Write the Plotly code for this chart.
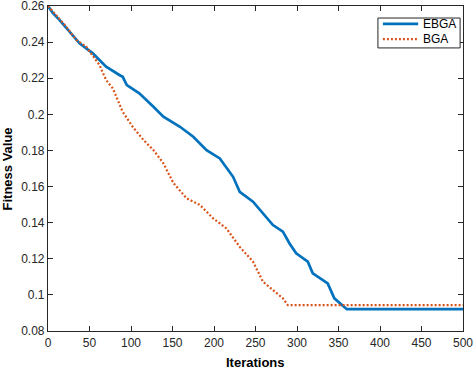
import plotly.graph_objects as go

ebga_x = [0, 6, 14, 26, 38, 54, 70, 86, 90, 95, 110, 127, 139, 159, 175, 191, 207, 223, 231, 247, 259, 271, 283, 291, 299, 313, 319, 337, 345, 360, 500]
ebga_y = [0.26, 0.256, 0.2522, 0.2458, 0.2393, 0.2338, 0.2264, 0.2218, 0.2208, 0.2162, 0.2116, 0.2042, 0.1987, 0.1931, 0.1876, 0.1802, 0.1756, 0.1654, 0.1571, 0.1516, 0.1451, 0.1387, 0.1350, 0.1285, 0.1230, 0.1184, 0.1119, 0.1064, 0.0981, 0.0921, 0.0921]

bga_x = [0, 6, 22, 34, 46, 62, 70, 78, 84, 90, 102, 115, 127, 139, 151, 167, 183, 199, 215, 231, 247, 259, 271, 283, 289, 500]
bga_y = [0.26, 0.2568, 0.2485, 0.2412, 0.2375, 0.2273, 0.2190, 0.2144, 0.2079, 0.2014, 0.1931, 0.1858, 0.1802, 0.1729, 0.1620, 0.1535, 0.1498, 0.1424, 0.1368, 0.1266, 0.1184, 0.1073, 0.1027, 0.0981, 0.0943, 0.0943]

x_ticks = [0, 50, 100, 150, 200, 250, 300, 350, 400, 450, 500]
y_ticks = [0.08, 0.1, 0.12, 0.14, 0.16, 0.18, 0.2, 0.22, 0.24, 0.26]
y_labels = ["0.08", "0.1", "0.12", "0.14", "0.16", "0.18", "0.2", "0.22", "0.24", "0.26"]

series_names = ["EBGA", "BGA"]
series_colors = ["#0072BD", "#D95319"]
series_widths = [2.7, 2.2]
series_dash = ["solid", "2px,2px"]

fig = go.Figure()
fig.add_trace(go.Scatter(x=ebga_x, y=ebga_y, mode="lines", name=series_names[0],
                         line=dict(color=series_colors[0], width=series_widths[0], dash=series_dash[0])))
fig.add_trace(go.Scatter(x=bga_x, y=bga_y, mode="lines", name=series_names[1],
                         line=dict(color=series_colors[1], width=series_widths[1], dash=series_dash[1])))

axis_common = dict(showline=True, linecolor="#262626", linewidth=1.2, mirror="ticks",
                   ticks="inside", ticklen=5, tickcolor="#262626", showgrid=False,
                   zeroline=False, automargin=False, ticklabeloverflow="allow",
                   tickfont=dict(size=12, color="#262626"))

# compact MATLAB-style legend box (paper coordinates)
leg_x0, leg_x1, leg_y0, leg_y1 = 0.795, 0.993, 0.871, 0.963
row_y = [0.945, 0.898]
shapes = [dict(type="rect", xref="paper", yref="paper", x0=leg_x0, x1=leg_x1, y0=leg_y0, y1=leg_y1,
               line=dict(color="#262626", width=1), fillcolor="white", layer="above")]
annotations = []
for name, col, w, d, ry in zip(series_names, series_colors, series_widths, series_dash, row_y):
    shapes.append(dict(type="line", xref="paper", yref="paper", x0=0.807, x1=0.892, y0=ry, y1=ry,
                       line=dict(color=col, width=w, dash=d), layer="above"))
    annotations.append(dict(text=name, xref="paper", yref="paper", x=0.898, y=ry,
                            xanchor="left", yanchor="middle", showarrow=False,
                            font=dict(size=12, color="black")))

annotations += [
    dict(text="<b>Iterations</b>", xref="paper", yref="paper", x=0.5, y=-0.0954,
         xanchor="center", yanchor="middle", showarrow=False,
         font=dict(size=13, color="black")),
    dict(text="<b>Fitness Value</b>", xref="paper", yref="paper", x=-0.0964, y=0.5,
         xanchor="center", yanchor="middle", textangle=-90, showarrow=False,
         font=dict(size=13, color="black")),
]

fig.update_layout(
    width=474, height=370,
    margin=dict(l=48, r=11, t=6, b=39, autoexpand=False),
    paper_bgcolor="white", plot_bgcolor="white",
    font=dict(family="Liberation Sans, Arial, sans-serif", color="#262626"),
    xaxis=dict(range=[0, 500], tickvals=x_ticks, **axis_common),
    yaxis=dict(range=[0.08, 0.26], tickvals=y_ticks, ticktext=y_labels, **axis_common),
    showlegend=False,
    shapes=shapes,
    annotations=annotations,
)

fig.write_html("out.html", config={"displayModeBar": False},
               post_script="document.body.style.margin='0';document.body.style.overflow='hidden';")
